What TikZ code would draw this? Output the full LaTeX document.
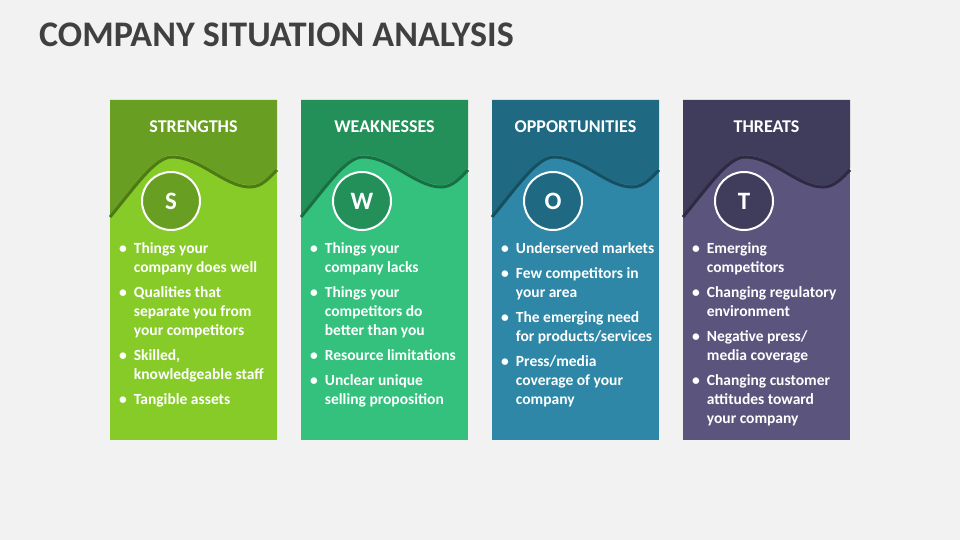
\documentclass[tikz,border=0pt]{standalone}
\usepackage{fontspec}
\setmainfont{Carlito}
\definecolor{bg}{HTML}{F2F2F2}
\definecolor{ttl}{HTML}{404040}
\definecolor{sA}{HTML}{689F22}\definecolor{sB}{HTML}{86CB28}\definecolor{sC}{HTML}{4D7A15}
\definecolor{wA}{HTML}{23905A}\definecolor{wB}{HTML}{33C17D}\definecolor{wC}{HTML}{1A6E44}
\definecolor{oA}{HTML}{1F6A82}\definecolor{oB}{HTML}{2E87A6}\definecolor{oC}{HTML}{164F62}
\definecolor{tA}{HTML}{403C5C}\definecolor{tB}{HTML}{5B557E}\definecolor{tC}{HTML}{2D2A42}
\tikzset{
 hdr/.style={text=white,font=\bfseries\fontsize{18}{20}\selectfont},
 letter/.style={circle,minimum size=58pt,draw=white,line width=2pt,text=white,font=\bfseries\fontsize{25}{28}\selectfont},
 items/.style={anchor=north west,text=white,inner sep=0pt,font=\bfseries\fontsize{15.5}{19}\selectfont},
}
\newcommand{\card}[9]{% #1 x, #2 top, #3 bottom, #4 unused, #5 name, #6 title, #7 letter, #8 items, #9 shade
 \begin{scope}[shift={(#1,0)}]
  \fill[#3] (0,100) rectangle (167,440);
  \fill[#2] (0,100) -- (0,215) .. controls (25,185) and (45,155) .. (62,155)
     .. controls (90,155) and (115,185) .. (140,185) .. controls (152,185) and (160,175) .. (167,168) -- (167,100) -- cycle;
  \draw[#9,line width=3pt] (0,217) .. controls (25,187) and (45,157) .. (62,157)
     .. controls (90,157) and (115,187) .. (140,187) .. controls (152,187) and (160,177) .. (167,170);
  \node[hdr] (#5h) at (83.5,127) {#6};
  \node[letter,fill=#2] (#5c) at (61,201) {#7};
  \node[items] (#5i) at (9,240) {\begin{tabular}{@{}l@{\hspace{7pt}}l@{}}#8\end{tabular}};
 \end{scope}}
\begin{document}
\begin{tikzpicture}[x=1pt,y=-1pt]
\fill[bg] (0,0) rectangle (960,540);
\useasboundingbox (0,0) rectangle (960,540);
\node[anchor=west,text=ttl,font=\bfseries\fontsize{36}{40}\selectfont,inner sep=0pt] (title) at (39,35) {COMPANY SITUATION ANALYSIS};
\card{110}{sA}{sB}{}{s}{STRENGTHS}{S}{%
 \textbullet & Things your\\ & company does well\\[6pt]
 \textbullet & Qualities that\\ & separate you from\\ & your competitors\\[6pt]
 \textbullet & Skilled,\\ & knowledgeable staff\\[6pt]
 \textbullet & Tangible assets}{sC}
\card{301}{wA}{wB}{}{w}{WEAKNESSES}{W}{%
 \textbullet & Things your\\ & company lacks\\[6pt]
 \textbullet & Things your\\ & competitors do\\ & better than you\\[6pt]
 \textbullet & Resource limitations\\[6pt]
 \textbullet & Unclear unique\\ & selling proposition}{wC}
\card{492}{oA}{oB}{}{o}{OPPORTUNITIES}{O}{%
 \textbullet & Underserved markets\\[6pt]
 \textbullet & Few competitors in\\ & your area\\[6pt]
 \textbullet & The emerging need\\ & for products/services\\[6pt]
 \textbullet & Press/media\\ & coverage of your\\ & company}{oC}
\card{683}{tA}{tB}{}{t}{THREATS}{T}{%
 \textbullet & Emerging\\ & competitors\\[6pt]
 \textbullet & Changing regulatory\\ & environment\\[6pt]
 \textbullet & Negative press/\\ & media coverage\\[6pt]
 \textbullet & Changing customer\\ & attitudes toward\\ & your company}{tC}
\end{tikzpicture}
\end{document}
